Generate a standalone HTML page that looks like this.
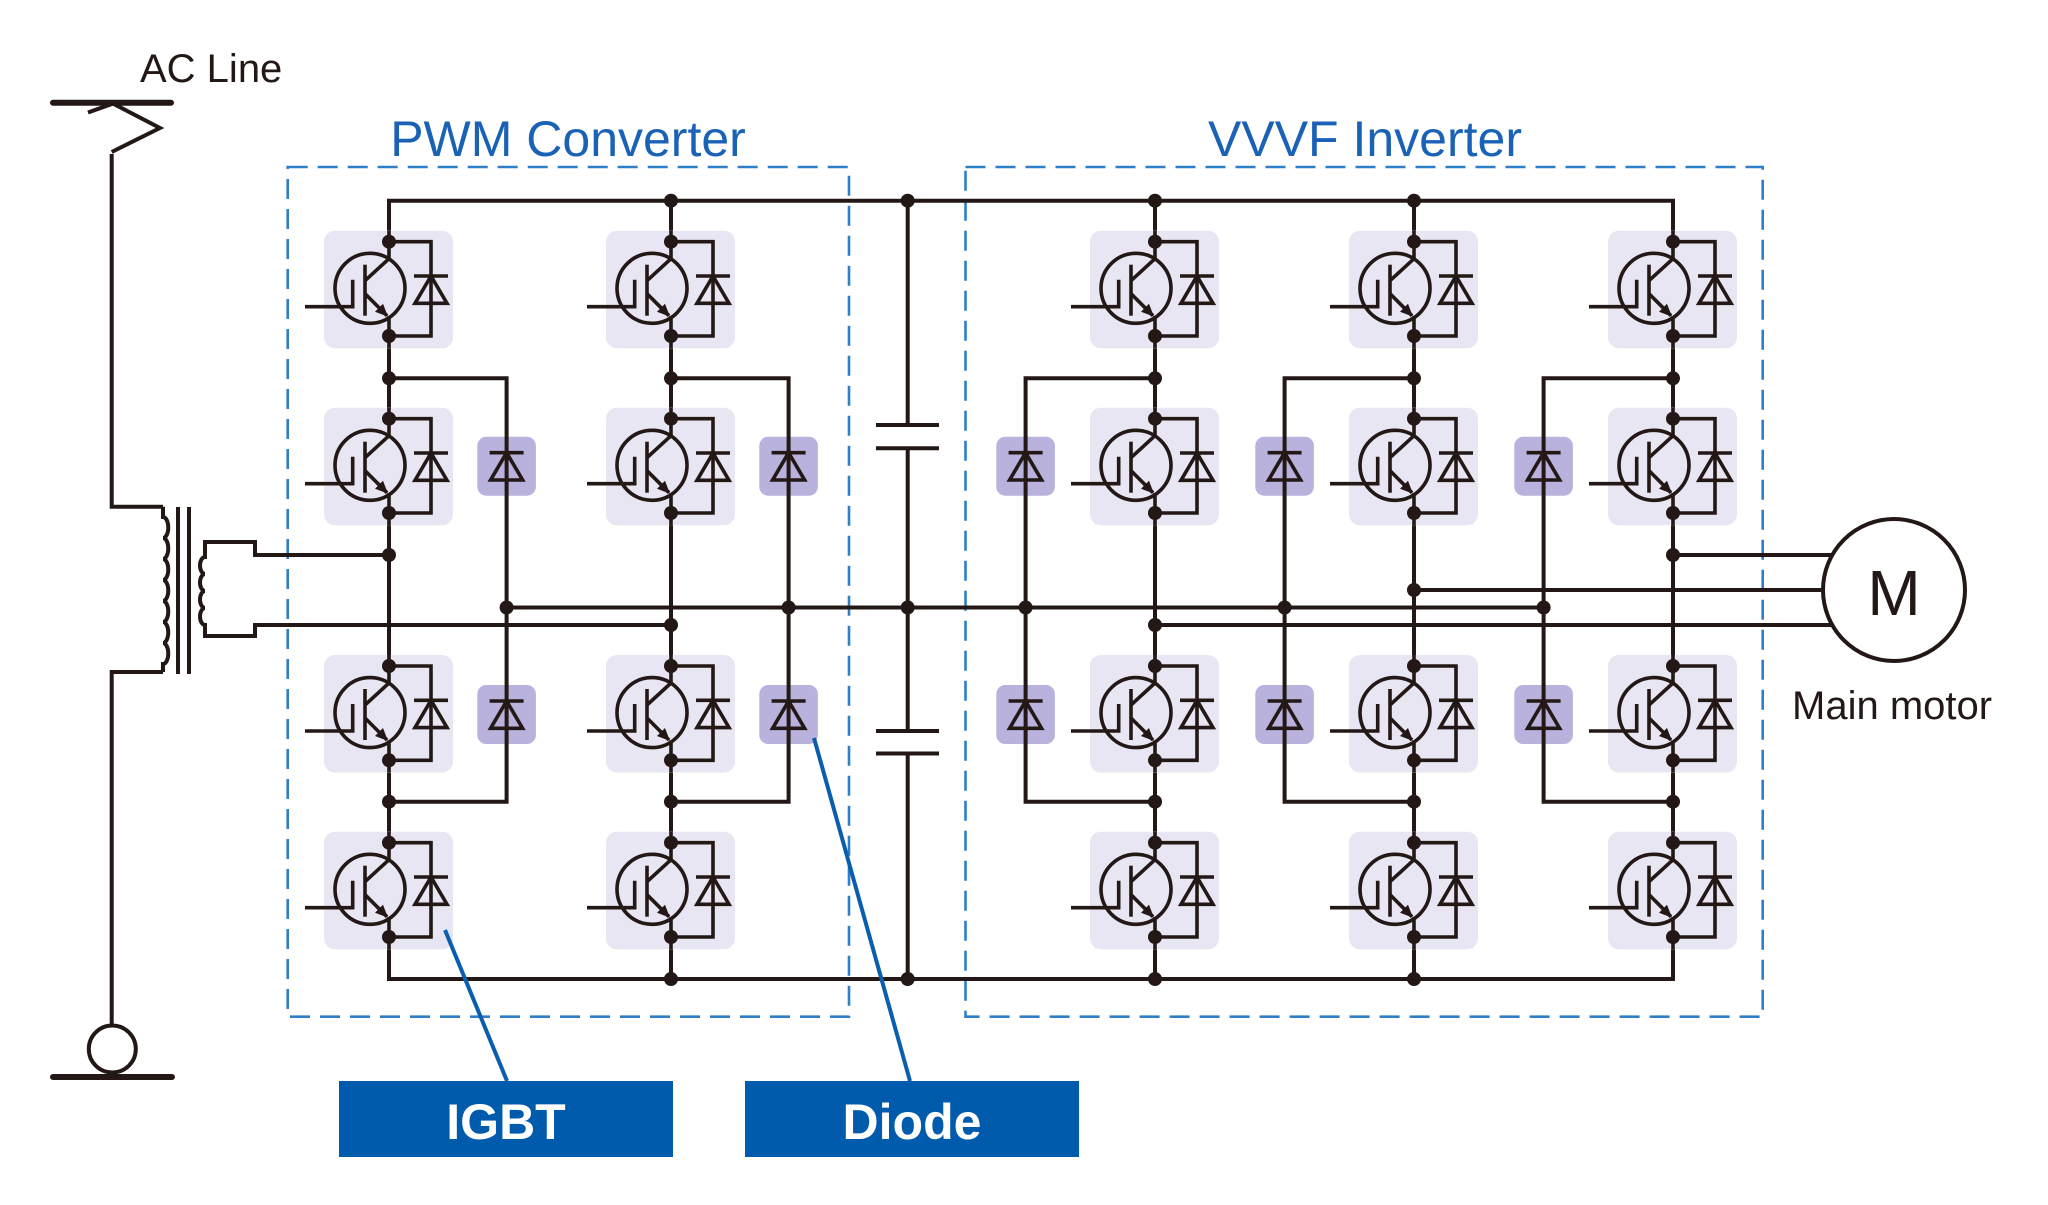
<!DOCTYPE html>
<html><head><meta charset="utf-8"><style>html,body{margin:0;padding:0;background:#fff}svg{display:block}</style></head>
<body>
<svg width="2048" height="1205" viewBox="0 0 2048 1205" xmlns="http://www.w3.org/2000/svg">
<defs>
<g id="m">
<rect x="-65" y="0" width="129" height="117.6" rx="11" fill="#e8e6f2"/>
<g fill="none" stroke="#231815" stroke-width="3.6">
<circle cx="-19" cy="57.6" r="35"/>
<path d="M-84,76 H-36.3 V49"/>
<path d="M-24,34 V85"/>
<path d="M-24,50 L0,28"/>
<path d="M-24,63 L-2,85"/>
<path d="M0,0 V28 M0,87 V117.6"/>
<path d="M0,11 H42 V105.3 H0"/>
<path d="M25,45.3 H59 M26,72.6 H58 L42,45.3 Z"/>
</g>
<path d="M-1,86 L-14,81 L-6,73 Z" fill="#231815"/>
<circle cx="0" cy="11" r="7" fill="#231815"/>
<circle cx="0" cy="105.3" r="7" fill="#231815"/>
</g>
<g id="f">
<rect x="-29.3" y="0" width="58.6" height="59" rx="9" fill="#b8b2dc"/>
<path d="M-17,16 H17 M-16,43.3 H16 L0,16 Z" fill="none" stroke="#231815" stroke-width="3.6"/>
</g>
</defs>

<!-- dashed boxes -->
<g fill="none" stroke="#2f7fc8" stroke-width="2.6" stroke-dasharray="20 10">
<rect x="287.7" y="167" width="561.3" height="849.7"/>
<rect x="965.5" y="167" width="797.2" height="849.7"/>
</g>

<!-- titles -->
<g font-family="Liberation Sans, sans-serif" fill="#1a62b6" font-size="50">
<text x="568" y="156" text-anchor="middle">PWM Converter</text>
<text x="1365" y="156" text-anchor="middle">VVVF Inverter</text>
</g>
<text x="140" y="82" font-family="Liberation Sans, sans-serif" font-size="40" fill="#231815">AC Line</text>

<!-- freewheel boxes -->
<use href="#f" x="506.6" y="436.7"/><use href="#f" x="506.6" y="685"/>
<use href="#f" x="788.6" y="436.7"/><use href="#f" x="788.6" y="685"/>
<use href="#f" x="1025.6" y="436.7"/><use href="#f" x="1025.6" y="685"/>
<use href="#f" x="1284.6" y="436.7"/><use href="#f" x="1284.6" y="685"/>
<use href="#f" x="1543.6" y="436.7"/><use href="#f" x="1543.6" y="685"/>

<!-- wires -->
<g fill="none" stroke="#231815" stroke-width="4">
<path d="M389,230.7 V200.7 H1673 V230.7"/>
<path d="M389,949.3 V979 H1673 V949.3"/>
<path d="M506.6,607.5 H1543.6"/>
<!-- legs -->
<path d="M389,348.3 V407.7 M389,525 V655 M389,772.7 V831.7"/>
<path d="M671,200.7 V230.7 M671,348.3 V407.7 M671,525 V655 M671,772.7 V831.7 M671,949.3 V979"/>
<path d="M1155,200.7 V230.7 M1155,348.3 V407.7 M1155,525 V655 M1155,772.7 V831.7 M1155,949.3 V979"/>
<path d="M1414,200.7 V230.7 M1414,348.3 V407.7 M1414,525 V655 M1414,772.7 V831.7 M1414,949.3 V979"/>
<path d="M1673,348.3 V407.7 M1673,525 V655 M1673,772.7 V831.7"/>
<!-- freewheel diode connections -->
<path d="M389,378.3 H506.6 V801.7 H389"/>
<path d="M671,378.3 H788.6 V801.7 H671"/>
<path d="M1155,378.3 H1025.6 V801.7 H1155"/>
<path d="M1414,378.3 H1284.6 V801.7 H1414"/>
<path d="M1673,378.3 H1543.6 V801.7 H1673"/>
<!-- capacitors -->
<path d="M907.7,200.7 V425 M907.7,448.3 V731 M907.7,753.5 V979"/>
<path d="M876,425 H939 M876,448.3 H939 M876,731 H939 M876,753.5 H939"/>
<!-- inverter outputs -->
<path d="M1155,625 H1890 M1414,590 H1890 M1673,555 H1890"/>
<!-- transformer -->
<path d="M111.7,154 V506.7 H163"/>
<path d="M163,672 H111.7 V1025.5"/>
<path d="M163,506.7 V517 a5,10 0 0 1 0,21 a5,10 0 0 1 0,21 a5,10 0 0 1 0,21 a5,10 0 0 1 0,21 a5,10 0 0 1 0,21 a5,10 0 0 1 0,21 a5,10 0 0 1 0,21 V672"/>
<path d="M178,507 V674 M189,507 V674"/>
<path d="M389,555 H255 V542 H205 V557 a5,8.5 0 0 0 0,17 a5,8.5 0 0 0 0,17 a5,8.5 0 0 0 0,17 a5,8.5 0 0 0 0,17 V636 H255 V625 H671"/>
<circle cx="112.3" cy="1049" r="23.5"/>
<path d="M88,112.5 L113,103.6 L160,128 L111.7,152"/>
</g>
<path d="M53,102.7 H171 M53,1077 H172" stroke="#231815" stroke-width="6" stroke-linecap="round"/>

<!-- modules -->
<use href="#m" x="389" y="230.7"/><use href="#m" x="389" y="407.7"/><use href="#m" x="389" y="655"/><use href="#m" x="389" y="831.7"/>
<use href="#m" x="671" y="230.7"/><use href="#m" x="671" y="407.7"/><use href="#m" x="671" y="655"/><use href="#m" x="671" y="831.7"/>
<use href="#m" x="1155" y="230.7"/><use href="#m" x="1155" y="407.7"/><use href="#m" x="1155" y="655"/><use href="#m" x="1155" y="831.7"/>
<use href="#m" x="1414" y="230.7"/><use href="#m" x="1414" y="407.7"/><use href="#m" x="1414" y="655"/><use href="#m" x="1414" y="831.7"/>
<use href="#m" x="1673" y="230.7"/><use href="#m" x="1673" y="407.7"/><use href="#m" x="1673" y="655"/><use href="#m" x="1673" y="831.7"/>

<!-- dots -->
<g fill="#231815">
<circle cx="671" cy="200.7" r="7"/><circle cx="907.7" cy="200.7" r="7"/><circle cx="1155" cy="200.7" r="7"/><circle cx="1414" cy="200.7" r="7"/>
<circle cx="671" cy="979" r="7"/><circle cx="907.7" cy="979" r="7"/><circle cx="1155" cy="979" r="7"/><circle cx="1414" cy="979" r="7"/>
<circle cx="506.6" cy="607.5" r="7"/><circle cx="788.6" cy="607.5" r="7"/><circle cx="907.7" cy="607.5" r="7"/><circle cx="1025.6" cy="607.5" r="7"/><circle cx="1284.6" cy="607.5" r="7"/><circle cx="1543.6" cy="607.5" r="7"/>
<circle cx="389" cy="378.3" r="7"/><circle cx="671" cy="378.3" r="7"/><circle cx="1155" cy="378.3" r="7"/><circle cx="1414" cy="378.3" r="7"/><circle cx="1673" cy="378.3" r="7"/>
<circle cx="389" cy="801.7" r="7"/><circle cx="671" cy="801.7" r="7"/><circle cx="1155" cy="801.7" r="7"/><circle cx="1414" cy="801.7" r="7"/><circle cx="1673" cy="801.7" r="7"/>
<circle cx="389" cy="555" r="7"/><circle cx="671" cy="625" r="7"/>
<circle cx="1155" cy="625" r="7"/><circle cx="1414" cy="590" r="7"/><circle cx="1673" cy="555" r="7"/>
</g>

<!-- motor -->
<circle cx="1894" cy="590" r="71" fill="#fff" stroke="#231815" stroke-width="4"/>
<text x="1894" y="615" text-anchor="middle" font-family="Liberation Sans, sans-serif" font-size="64" fill="#231815">M</text>
<text x="1792" y="719" font-family="Liberation Sans, sans-serif" font-size="40" fill="#231815">Main motor</text>

<!-- leaders and labels -->
<path d="M445,930 L507,1081 M814,738 L910,1081" stroke="#0a5eb0" stroke-width="4" fill="none"/>
<rect x="339" y="1081" width="334" height="76" fill="#005bac"/>
<rect x="745" y="1081" width="334" height="76" fill="#005bac"/>
<g font-family="Liberation Sans, sans-serif" font-weight="bold" font-size="50" fill="#fff" text-anchor="middle">
<text x="506" y="1139">IGBT</text>
<text x="912" y="1139">Diode</text>
</g>
</svg>
</body></html>
